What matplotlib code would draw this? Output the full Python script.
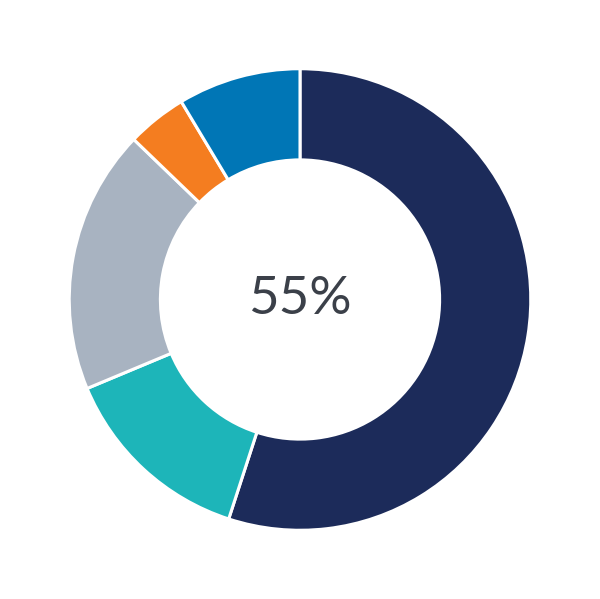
import matplotlib.pyplot as plt

labels = ["Navy", "Teal", "Gray", "Orange", "Blue"]
values = [55, 13.7, 18.5, 4.2, 8.6]
colors = ["#1c2b5a", "#1db5b9", "#a8b3c1", "#f47d20", "#0076b6"]
center_text = "55%"

fig = plt.figure(figsize=(6, 5.99), dpi=100)
ax = fig.add_axes([0, 0, 1, 1])
ax.pie(values, colors=colors, startangle=90, counterclock=False, radius=1.0,
       wedgeprops=dict(width=0.395, edgecolor="white", linewidth=2.2))
ax.text(0, 0, center_text, ha="center", va="center", fontsize=38,
        family="Lato", color="#3b4049")
ax.set_xlim(-1.3, 1.3)
ax.set_ylim(-1.2978, 1.2978)
ax.set_aspect("equal")
ax.axis("off")
fig.savefig("out.png", dpi=100, facecolor="white")
